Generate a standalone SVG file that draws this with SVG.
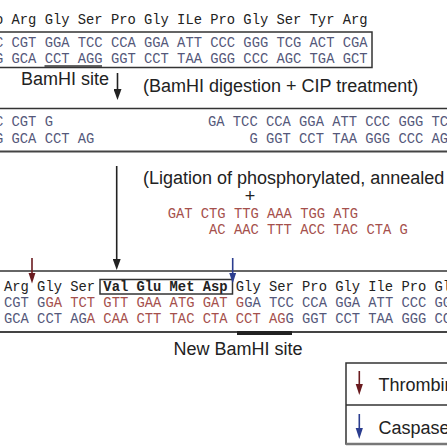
<svg xmlns="http://www.w3.org/2000/svg" width="447" height="447" viewBox="0 0 447 447">
<defs>
<style>
.m{font-family:"Liberation Mono","Courier New",monospace;font-size:13.8px;white-space:pre}
.aa{fill:#222}
.v{fill:#55587a}
.i{fill:#a5504c}
.b{font-weight:bold}
.s{font-family:"Liberation Sans",Arial,sans-serif;font-size:18px;fill:#222}
.ln{stroke:#333;stroke-width:1.5;fill:none}
.ar{stroke-width:1.6;fill:none}
</style>
<marker id="hk" viewBox="0 -4 11 8" refX="6" refY="0" markerWidth="11" markerHeight="8" markerUnits="userSpaceOnUse" orient="auto"><path d="M0,-4 L11,0 L0,4 z" fill="#222"/></marker>
<marker id="hr" viewBox="0 -4 11 8" refX="6" refY="0" markerWidth="11" markerHeight="8" markerUnits="userSpaceOnUse" orient="auto"><path d="M0,-3.6 L11,0 L0,3.6 z" fill="#6a1b1f"/></marker>
<marker id="hb" viewBox="0 -4 11 8" refX="6" refY="0" markerWidth="11" markerHeight="8" markerUnits="userSpaceOnUse" orient="auto"><path d="M0,-3.6 L11,0 L0,3.6 z" fill="#2b3d8f"/></marker>
</defs>
<rect width="447" height="447" fill="#fff"/>

<g id="original-sequence">
<text class="m aa" x="-21.6" y="24">Pro Arg Gly Ser Pro Gly ILe Pro Gly Ser Tyr Arg</text>
<rect class="ln" x="-5" y="32" width="377" height="35.5" stroke-width="1.6"/>
<text class="m v" x="-21.6" y="46.5">CCC CGT GGA TCC CCA GGA ATT CCC GGG TCG ACT CGA</text>
<text class="m v" x="-21.6" y="62.5">GGG GCA CCT AGG GGT CCT TAA GGG CCC AGC TGA GCT</text>
<line class="ln" x1="44.5" y1="66" x2="102" y2="66" stroke-width="1.2"/>
<text class="s" x="21" y="84.5">BamHI site</text>
<text class="s" x="143" y="92">(BamHI digestion + CIP treatment)</text>
</g>

<g id="digested-vector">
<line class="ln" x1="0" y1="108.5" x2="447" y2="108.5"/>
<text class="m v" x="-21.6" y="126">CCC CGT G</text>
<text class="m v" x="-21.6" y="142.5">GGG GCA CCT AG</text>
<text class="m v" x="208" y="126">GA TCC CCA GGA ATT CCC GGG TCG</text>
<text class="m v" x="249.4" y="142.5">G GGT CCT TAA GGG CCC AGC</text>
<line x1="0" y1="151.5" x2="447" y2="151.5" stroke="#444" stroke-width="2"/>
</g>

<g id="insert">
<text class="s" x="143" y="183.5">(Ligation of phosphorylated, annealed</text>
<text class="s" x="250" y="201.5" text-anchor="middle">+</text>
<text class="m i" x="167.7" y="217.5">GAT CTG TTG AAA TGG ATG</text>
<text class="m i" x="209.1" y="233.5">AC AAC TTT ACC TAC CTA G</text>
</g>

<g id="product">
<line class="ln" x1="0" y1="271" x2="447" y2="271"/>
<text class="m aa" x="4" y="291">Arg Gly Ser <tspan class="b">Val Glu Met Asp</tspan> Gly Ser Pro Gly Ile Pro Gly</text>
<rect class="ln" x="100" y="279.5" width="132.5" height="14.5" stroke-width="1.6"/>
<text class="m" x="4" y="306.5"><tspan class="v">CGT G</tspan><tspan class="i">GA TCT GTT GAA ATG GAT G</tspan><tspan class="v">GA TCC CCA GGA ATT CCC GGG</tspan></text>
<text class="m" x="4" y="322.5"><tspan class="v">GCA CCT AG</tspan><tspan class="i">A CAA CTT TAC CTA CCT AG</tspan><tspan class="v">G GGT CCT TAA GGG CCC</tspan></text>
<line x1="0" y1="332" x2="447" y2="332" stroke="#444" stroke-width="2"/>
<rect x="237" y="331" width="55" height="4" fill="#222"/>
<text class="s" x="173.5" y="355">New BamHI site</text>
</g>

<g id="legend">
<rect x="346" y="363" width="120" height="81" fill="none" stroke="#333" stroke-width="1.5"/>
<line x1="346" y1="405" x2="447" y2="405" stroke="#333" stroke-width="1.5"/>
<line x1="346" y1="444" x2="447" y2="444" stroke="#777" stroke-width="2.5"/>
<text class="s" x="378.5" y="391">Thrombin</text>
<text class="s" x="378.5" y="434">Caspase</text>
</g>

<g id="connectors">
<line class="ar" x1="117.5" y1="73" x2="117.5" y2="95" stroke="#222" marker-end="url(#hk)"/>
<line class="ar" x1="116.7" y1="166" x2="116.7" y2="265" stroke="#222" marker-end="url(#hk)"/>
<line class="ar" x1="32" y1="258" x2="32" y2="278.5" stroke="#6a1b1f" marker-end="url(#hr)"/>
<line class="ar" x1="232.7" y1="258" x2="232.7" y2="278.5" stroke="#2b3d8f" marker-end="url(#hb)"/>
<line class="ar" x1="359.3" y1="371" x2="359.3" y2="390" stroke="#6a1b1f" marker-end="url(#hr)"/>
<line class="ar" x1="359.3" y1="414" x2="359.3" y2="434" stroke="#2b3d8f" marker-end="url(#hb)"/>
</g>
</svg>
